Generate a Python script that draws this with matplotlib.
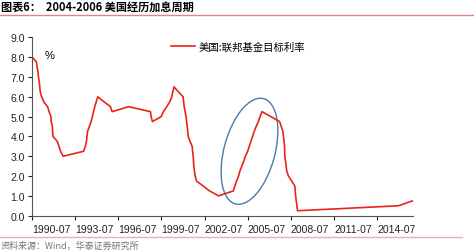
import numpy as np
import pandas as pd
import matplotlib
matplotlib.use("Agg")
import matplotlib.pyplot as plt
import matplotlib.dates as mdates
from matplotlib.patches import Ellipse
from matplotlib.transforms import IdentityTransform

plt.rcParams['font.family'] = ['Noto Sans CJK SC', 'DejaVu Sans']

# Fed funds target rate change dates and levels (%)
dates = [
    "1990-07-13", "1990-10-29", "1990-11-13", "1990-12-07", "1990-12-18",
    "1991-01-09", "1991-02-01", "1991-03-08", "1991-04-30", "1991-08-06",
    "1991-09-13", "1991-10-31", "1991-11-06", "1991-12-06", "1991-12-20",
    "1992-04-09", "1992-07-02", "1992-09-04", "1994-02-04", "1994-03-22",
    "1994-04-18", "1994-05-17", "1994-08-16", "1994-11-15", "1995-02-01",
    "1995-07-06", "1995-12-19", "1996-01-31", "1997-03-25", "1998-09-29",
    "1998-10-15", "1998-11-17", "1999-06-30", "1999-08-24", "1999-11-16",
    "2000-02-02", "2000-03-21", "2000-05-16", "2001-01-03", "2001-01-31",
    "2001-03-20", "2001-04-18", "2001-05-15", "2001-06-27", "2001-08-21",
    "2001-09-17", "2001-10-02", "2001-11-06", "2001-12-11", "2002-11-06",
    "2003-06-25", "2004-06-30", "2004-08-10", "2004-09-21", "2004-11-10",
    "2004-12-14", "2005-02-02", "2005-03-22", "2005-05-03", "2005-06-30",
    "2005-08-09", "2005-09-20", "2005-11-01", "2005-12-13", "2006-01-31",
    "2006-03-28", "2006-05-10", "2006-06-29", "2007-09-18", "2007-10-31",
    "2007-12-11", "2008-01-22", "2008-01-30", "2008-03-18", "2008-04-30",
    "2008-10-08", "2008-10-29", "2008-12-16", "2015-12-16", "2016-12-14",
]
rates = [
    8.00, 7.75, 7.50, 7.25, 7.00,
    6.75, 6.25, 6.00, 5.75, 5.50,
    5.25, 5.00, 4.75, 4.50, 4.00,
    3.75, 3.25, 3.00, 3.25, 3.50,
    3.75, 4.25, 4.75, 5.50, 6.00,
    5.75, 5.50, 5.25, 5.50, 5.25,
    5.00, 4.75, 5.00, 5.25, 5.50,
    5.75, 6.00, 6.50, 6.00, 5.50,
    5.00, 4.50, 4.00, 3.75, 3.50,
    3.00, 2.50, 2.00, 1.75, 1.25,
    1.00, 1.25, 1.50, 1.75, 2.00,
    2.25, 2.50, 2.75, 3.00, 3.25,
    3.50, 3.75, 4.00, 4.25, 4.50,
    4.75, 5.00, 5.25, 4.75, 4.50,
    4.25, 3.50, 3.00, 2.25, 2.00,
    1.50, 1.00, 0.25, 0.50, 0.75,
]
tick_dates = ["1990-07", "1993-07", "1996-07", "1999-07", "2002-07",
              "2005-07", "2008-07", "2011-07", "2014-07"]
series_name = "美国:联邦基金目标利率"

dates = pd.to_datetime(dates)
num_font = ['Liberation Sans', 'DejaVu Sans']

fig = plt.figure(figsize=(4.74, 2.53), dpi=100)
ax = fig.add_axes([0.067, 0.1435, 0.804, 0.705])

ax.plot(dates, rates, color='#e8241c', lw=1.2, label=series_name)

ax.set_xlim(pd.Timestamp("1990-07-01"), pd.Timestamp("2016-12-20"))
ax.set_ylim(0, 9)
ax.set_yticks(np.arange(0, 9.1, 1.0))
ax.set_yticklabels([f"{v:.1f}" for v in np.arange(0, 9.1, 1.0)])
ax.set_xticks(pd.to_datetime(tick_dates))
ax.xaxis.set_major_formatter(mdates.DateFormatter("%Y-%m"))

ax.tick_params(axis='both', labelsize=7.5, colors='#222222', length=3,
               width=0.8, direction='out')
ax.tick_params(axis='x', pad=3)
ax.tick_params(axis='y', pad=2)
fig.canvas.draw()
for lbl in ax.get_xticklabels():
    lbl.set_horizontalalignment('left')
    lbl.set_family(num_font)
for lbl in ax.get_yticklabels():
    lbl.set_family(num_font)
for s in ['top', 'right']:
    ax.spines[s].set_visible(False)
for s in ['left', 'bottom']:
    ax.spines[s].set_color('#555555')
    ax.spines[s].set_linewidth(0.8)

ax.text(0.035, 0.9, "%", transform=ax.transAxes, fontsize=8, va='center',
        family=num_font)

leg = ax.legend(loc='upper left', bbox_to_anchor=(0.34, 1.03), frameon=False,
                fontsize=7.5, handlelength=2.3, handletextpad=0.4)

# ellipse around the 2004-2006 hiking cycle, drawn in pixel space
fig.canvas.draw()
cx, cy = ax.transData.transform((mdates.date2num(pd.Timestamp("2005-08-15")), 3.25))
ax.add_patch(Ellipse((cx, cy), 51, 109, angle=-15, fill=False,
                     edgecolor='#4a7aa8', lw=1.0, transform=IdentityTransform(),
                     clip_on=False))

# header and footer
fig.text(0.002, 0.972, "图表6：  2004-2006 美国经历加息周期", fontsize=8,
         fontweight='bold', va='center', ha='left')
fig.add_artist(plt.Line2D([0, 1], [0.938, 0.938], color='#d98888', lw=1.0))
fig.add_artist(plt.Line2D([0, 0.975], [0.06, 0.06], color='#eab0b0', lw=1.0))
fig.text(0.002, 0.027, "资料来源：Wind，华泰证券研究所", fontsize=6.5,
         color='#777777', va='center', ha='left')

fig.savefig("out.png", dpi=100)
